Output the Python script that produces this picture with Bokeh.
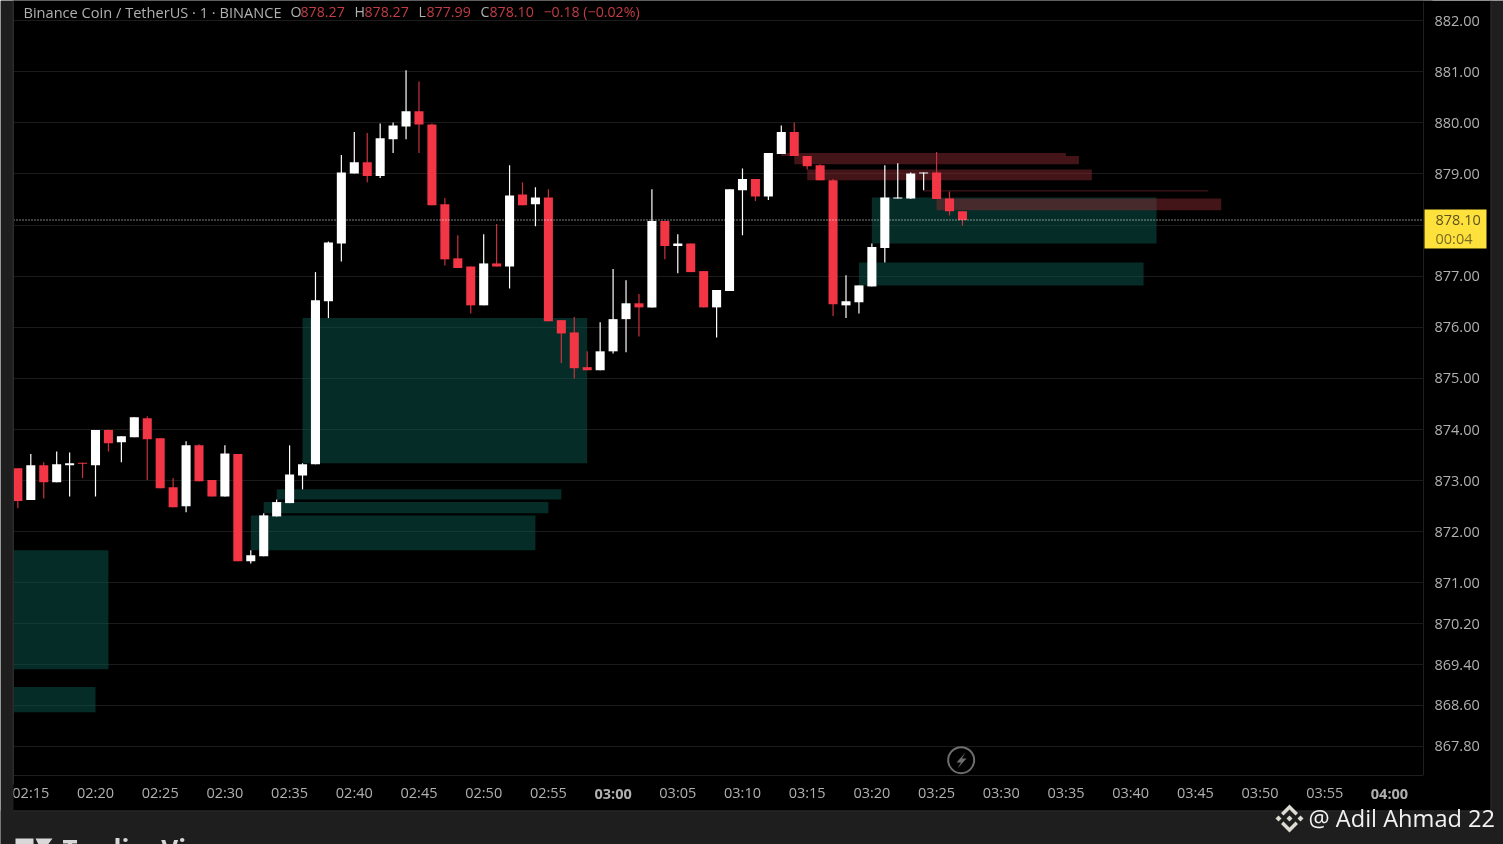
from bokeh.plotting import figure
from bokeh.core.properties import value
from bokeh.models import Range1d, FixedTicker, Span, ColumnDataSource, NumeralTickFormatter
from bokeh.embed import file_html
from bokeh.resources import INLINE

# ---------- data (prices in USDT, minutes counted from 02:15) ----------
minute = list(range(-1, 73))
open_ = [873.24,872.62,873.30,872.97,873.30,873.35,873.30,873.99,873.75,873.85,874.22,873.83,872.87,872.50,873.69,873.01,
         872.69,873.52,871.42,871.52,872.30,872.56,873.10,873.32,876.51,877.64,879.01,879.23,878.96,879.68,879.93,880.23,
         879.97,878.41,877.35,877.19,876.43,877.25,877.19,878.60,878.41,878.54,876.14,875.90,875.22,875.16,875.53,876.16,
         876.47,876.39,878.08,877.59,877.64,877.10,876.39,876.71,878.68,878.90,878.56,879.39,879.82,879.35,879.17,878.88,
         876.43,876.49,876.80,877.55,878.52,878.52,879.01,879.03,878.52,878.27]
high = [873.24,873.52,873.36,873.57,873.55,873.35,873.99,874.00,873.87,874.24,874.26,873.83,873.05,873.77,873.71,873.01,
        873.69,873.52,871.64,872.36,872.63,873.69,873.34,877.08,877.68,879.37,879.82,879.80,879.99,880.01,881.03,880.81,
        879.99,878.53,877.80,877.19,877.82,878.02,879.17,878.84,878.74,878.70,876.14,876.20,875.53,876.10,877.14,876.92,
        876.65,878.70,878.08,877.82,877.64,877.10,876.73,878.70,879.11,878.90,879.41,879.95,880.01,879.35,879.19,878.90,
        877.02,876.82,877.64,879.17,879.21,879.03,879.03,879.43,878.66,878.27]
low = [872.46,872.62,872.65,872.97,872.69,873.05,872.69,873.57,873.36,873.85,873.01,872.85,872.48,872.38,872.99,872.69,
       872.69,871.42,871.38,871.52,872.30,872.56,872.83,873.32,876.18,877.29,879.01,878.84,878.92,879.41,879.68,879.41,
       878.39,877.21,877.16,876.27,876.43,877.19,876.76,878.39,877.98,876.12,875.30,875.00,875.16,875.16,875.49,875.51,
       875.82,876.39,877.33,877.06,877.08,876.39,875.80,876.71,877.80,878.47,878.49,879.39,879.35,879.09,878.88,876.22,
       876.18,876.27,876.80,877.27,878.52,878.51,878.68,878.51,878.19,877.99]
close = [872.60,873.30,872.97,873.32,873.34,873.33,873.99,873.73,873.87,874.24,873.81,872.85,872.48,873.69,872.99,872.69,
         873.53,871.42,871.54,872.32,872.58,873.12,873.32,876.53,877.66,879.03,879.23,878.96,879.70,879.95,880.23,879.97,
         878.39,877.33,877.16,876.43,877.25,877.19,878.58,878.39,878.54,876.12,875.88,875.20,875.16,875.53,876.16,876.47,
         876.39,878.08,877.59,877.64,877.08,876.39,876.73,878.70,878.90,878.56,879.41,879.82,879.35,879.15,878.88,876.45,
         876.51,876.82,877.57,878.54,878.54,879.01,879.03,878.51,878.27,878.10]

green_left = [21, 19, 18, 17, -20, -20, 65, 64]
green_right = [43, 41, 40, 39, 6, 5, 87, 86]
green_top = [876.18, 872.83, 872.58, 872.32, 871.64, 868.96, 878.54, 877.27]
green_bottom = [873.34, 872.63, 872.36, 871.64, 869.31, 868.47, 877.64, 876.82]

red_left = [58, 59, 60, 69, 70]
red_right = [80, 81, 82, 91, 92]
red_top = [879.41, 879.35, 879.09, 878.68, 878.52]
red_bottom = [879.35, 879.19, 878.88, 878.66, 878.29]

price_ticks = [882, 881, 880, 879, 878, 877, 876, 875, 874, 873, 872, 871, 870.2, 869.4, 868.6, 867.8]
time_ticks = [0,5,10,15,20,25,30,35,40,45,50,55,60,65,70,75,80,85,90,95,100,105]
time_labels = ["02:15","02:20","02:25","02:30","02:35","02:40","02:45","02:50","02:55","03:00","03:05","03:10",
               "03:15","03:20","03:25","03:30","03:35","03:40","03:45","03:50","03:55","04:00"]
bold_times = {45: "03:00", 105: "04:00"}
last_price = 878.10
title_text = "Binance Coin / TetherUS · 1 · BINANCE"
ohlc_text = [("O", "878.27", 290, 300), ("H", "878.27", 354, 364), ("L", "877.99", 418, 426), ("C", "878.10", 480, 489)]
change_text = "−0.18 (−0.02%)"

# ---------- styles ----------
FONT = "Open Sans"
BG = "#000000"
GUTTER = "#1e1e1e"
EDGE = "#2b2b2b"
UP = "#ffffff"
DOWN = "#f23645"
DOWN_WICK = "#c8323e"
TEXT = "#b0b0b0"
HEADRED = "#c23c46"
X_MIN, X_MAX = -1.337, 107.63
FIXED = {"position": "fixed", "left": "0px", "top": "0px"}

p = figure(width=1503, height=844, frame_width=1410, frame_height=775,
           min_border_left=13, min_border_right=80, min_border_top=0, min_border_bottom=69,
           x_range=Range1d(X_MIN, X_MAX), y_range=Range1d(867.23, 882.395),
           toolbar_location=None, output_backend="svg", x_axis_location="below", y_axis_location="right",
           background_fill_color=BG, border_fill_color=BG, outline_line_color=None, styles=FIXED)

# axes
xa = p.xaxis[0]
xa.ticker = FixedTicker(ticks=time_ticks)
xa.major_label_overrides = {t: ("" if t in bold_times else l) for t, l in zip(time_ticks, time_labels)}
ya = p.yaxis[0]
ya.ticker = FixedTicker(ticks=price_ticks)
ya.formatter = NumeralTickFormatter(format="0.00")
for a in (xa, ya):
    a.axis_line_color = None
    a.major_tick_line_color = None
    a.minor_tick_line_color = None
    a.major_label_text_color = TEXT
    a.major_label_text_font = FONT
    a.major_label_text_font_size = "14.5px"
xa.major_label_standoff = 1
ya.major_label_standoff = 5

p.xgrid.visible = False
p.ygrid[0].ticker = FixedTicker(ticks=price_ticks)
p.ygrid.grid_line_color = "#1b1b1b"
p.ygrid.grid_line_width = 1

# zones
p.quad(left=green_left, right=green_right, top=green_top, bottom=green_bottom,
       fill_color="#0c5850", fill_alpha=0.5, line_color=None)
p.quad(left=red_left, right=red_right, top=red_top, bottom=red_bottom,
       fill_color="#862830", fill_alpha=0.5, line_color=None)

# candles
src = ColumnDataSource(dict(
    m=minute, o=open_, h=high, l=low, c=close,
    top=[max(a, b) for a, b in zip(open_, close)],
    bot=[min(a, b) for a, b in zip(open_, close)],
    body=[UP if c >= o else DOWN for o, c in zip(open_, close)],
    wick=[UP if c >= o else DOWN_WICK for o, c in zip(open_, close)],
))
p.segment(x0="m", x1="m", y0="l", y1="h", line_color="wick", line_width=1.2, source=src)
p.vbar(x="m", width=0.7, top="top", bottom="bot", fill_color="body", line_color=None, source=src)

# lightning icon circle
p.scatter(x=[71.9], y=[867.53], size=26, marker="circle", fill_color="#000000",
          line_color="#6e6e6e", line_width=2)

# last price line
p.add_layout(Span(location=last_price, dimension="width", line_color="#ffffff", line_width=1, line_dash="1 2"))

# ---------- transparent page-sized layer for what lies outside the plot frame ----------
q = figure(width=1503, height=844, frame_width=1503, frame_height=844, min_border=0,
           x_range=Range1d(0, 1503), y_range=Range1d(844, 0), x_axis_location=None, y_axis_location=None,
           toolbar_location=None, output_backend="svg", background_fill_alpha=0, border_fill_alpha=0,
           outline_line_color=None, styles=FIXED)
q.grid.visible = False


def box(l, t, r, b, color):
    q.quad(left=[l], right=[r], top=[t], bottom=[b], fill_color=color, line_color=None)


def poly(pts, color):
    q.patch(x=[a for a, _ in pts], y=[b for _, b in pts], fill_color=color, line_color=None)


def label(x, y, text, color, size, style="normal", align="left"):
    q.text(x=[x], y=[y], text=[text], text_color=color, text_font=value(FONT), text_font_size=size,
           text_font_style=style, text_align=align, text_baseline="middle")


# cover the hairlines around the plot frame
box(1423, 0, 1432, 784, BG)
box(13, 775, 1432, 784, BG)
box(13, 0, 1490, 1.5, BG)

# gutters
box(0, 0, 13, 844, GUTTER)
box(1490, 0, 1503, 844, GUTTER)
box(0, 810, 1503, 844, GUTTER)
box(12, 0, 13.5, 784, EDGE)
box(1490, 0, 1491, 811, EDGE)
box(12, 810, 1491, 811, EDGE)

# header
label(23, 11, title_text, TEXT, "14.6px")
for key, val, kx, vx in ohlc_text:
    label(kx, 11, key, TEXT, "14.2px")
    label(vx, 11, val, HEADRED, "14.2px")
label(543, 11, change_text, HEADRED, "14.2px")

# last price tag
box(1424, 209, 1486, 248, "#ffe13b")
label(1435, 219.5, "878.10", "#5d5220", "14.5px")
label(1435, 237.5, "00:04", "#7a6c20", "14.5px")

# bold axis labels
for t, s in bold_times.items():
    label(13 + (t - X_MIN) / (X_MAX - X_MIN) * 1410, 792.5, s, TEXT, "14.5px", "bold", "center")

# lightning bolt
poly([(965, 752), (956, 762), (960.5, 762), (957, 768), (966, 758), (961.5, 758)], "#6e6e6e")

# Binance-style mark and signature
cx, cy = 1289, 818
MARK = "#dcdcd2"
for dx in (-11, 0, 11):
    poly([(cx + dx - 3, cy), (cx + dx, cy - 3), (cx + dx + 3, cy), (cx + dx, cy + 3)], MARK)
for s in (-1, 1):
    poly([(cx, cy + s * 14), (cx + 8.5, cy + s * 5.5), (cx + 6, cy + s * 3), (cx, cy + s * 9),
          (cx - 6, cy + s * 3), (cx - 8.5, cy + s * 5.5)], MARK)
label(1308, 817, "@ Adil Ahmad 22", "#f2f2f2", "23.6px")

# TradingView footer (cut off by the window)
poly([(15, 838), (33, 838), (33, 846), (15, 846)], "#d8d8d8")
poly([(35, 838), (52, 838), (46, 846), (39, 846)], "#d8d8d8")
label(62, 848, "TradingView", "#d8d8d8", "26px", "bold")

open("out.html", "w").write(file_html([p, q], INLINE))
